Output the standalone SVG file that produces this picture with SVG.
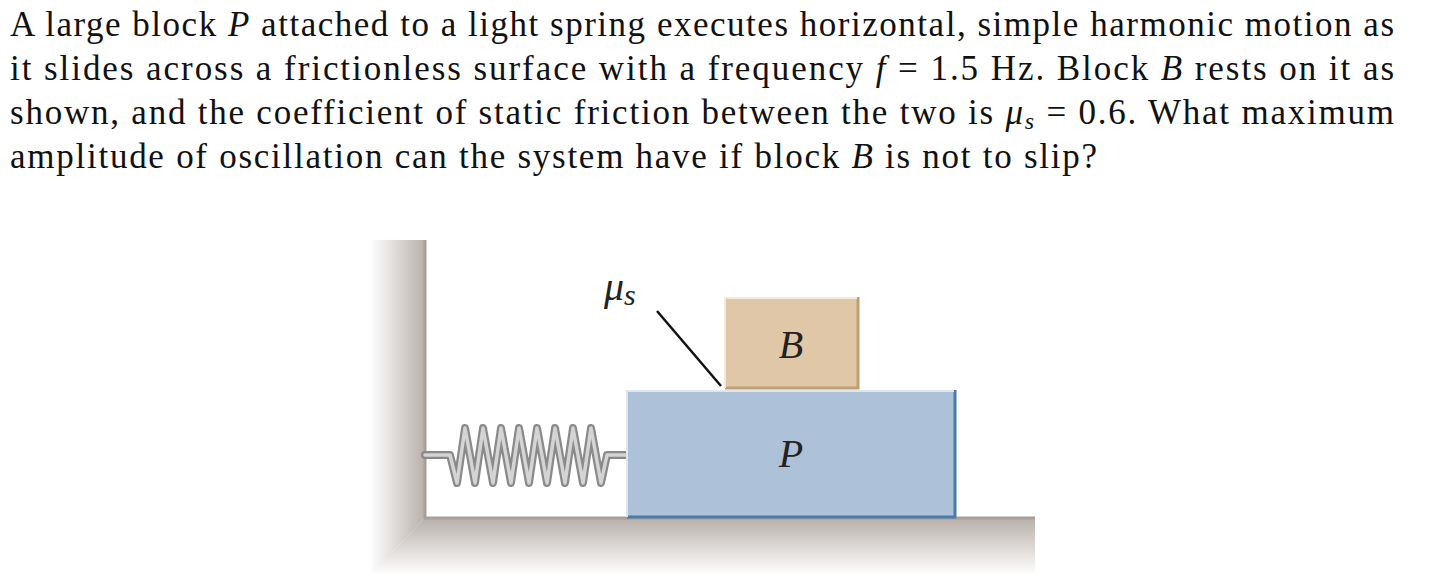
<svg xmlns="http://www.w3.org/2000/svg" width="1434" height="578" viewBox="0 0 1434 578">
<style>
.t{font-family:"Liberation Serif",serif;font-size:35px;fill:#111}
.it{font-style:italic}
.lbl{font-family:"Liberation Serif",serif;font-style:italic;font-size:40px;fill:#222}
</style>
<defs>
<linearGradient id="wallg" x1="0" y1="0" x2="1" y2="0"><stop offset="0" stop-color="#fff"/><stop offset="1" stop-color="#b8b0aa"/></linearGradient>
<linearGradient id="floorg" x1="0" y1="0" x2="0" y2="1"><stop offset="0" stop-color="#b8b0aa"/><stop offset="1" stop-color="#fff"/></linearGradient>
</defs>
<rect width="1434" height="578" fill="#fff"/>
<text class="t" x="10" y="36" textLength="1384" lengthAdjust="spacing">A large block <tspan class="it">P</tspan> attached to a light spring executes horizontal, simple harmonic motion as</text>
<text class="t" x="10" y="80" textLength="1384" lengthAdjust="spacing">it slides across a frictionless surface with a frequency <tspan class="it">f</tspan> = 1.5 Hz. Block <tspan class="it">B</tspan> rests on it as</text>
<text class="t" x="10" y="124" textLength="1384" lengthAdjust="spacing">shown, and the coefficient of static friction between the two is <tspan class="it">μ<tspan font-size="24" dy="5">s</tspan></tspan><tspan dy="-5"> = 0.6. What maximum</tspan></text>
<text class="t" x="10" y="168" textLength="1087" lengthAdjust="spacing">amplitude of oscillation can the system have if block <tspan class="it">B</tspan> is not to slip?</text>
<g id="wall">
<polygon points="370,240 425,240 425,518 370,575" fill="url(#wallg)"/>
<polygon points="425,518 1035,518 1035,575 370,575" fill="url(#floorg)"/>
<path d="M425,240 V518 H1035" fill="none" stroke="#a89f98" stroke-width="3"/>
</g>
<g id="spring" fill="none" stroke-linecap="round" stroke-linejoin="round">
<path d="M425,455 H450 L457,483 L465,428 L475,483 L483,428 L493,483 L501,428 L511,483 L519,428 L529,483 L537,428 L547,483 L555,428 L565,483 L573,428 L583,483 L591,428 L601,483 L607,455 H627" stroke="#8a8a8a" stroke-width="8"/>
<path d="M425,455 H450 L457,483 L465,428 L475,483 L483,428 L493,483 L501,428 L511,483 L519,428 L529,483 L537,428 L547,483 L555,428 L565,483 L573,428 L583,483 L591,428 L601,483 L607,455 H627" stroke="#d4d4d4" stroke-width="3.5"/>
</g>
<g id="P">
<rect x="627" y="390" width="328" height="128" fill="#adc2d9"/>
<path d="M627,517 H955 V390" fill="none" stroke="#4a7aa8" stroke-width="3"/>
<path d="M627,517 V391 H954" fill="none" stroke="#dde6ef" stroke-width="2"/>
<text class="lbl" x="791" y="467" text-anchor="middle">P</text>
</g>
<g id="B">
<rect x="725" y="297" width="133" height="92" fill="#dfc7a8"/>
<path d="M725,388 H858 V297" fill="none" stroke="#c19d72" stroke-width="3"/>
<path d="M725,388 V298 H857" fill="none" stroke="#f3e9dc" stroke-width="2"/>
<text class="lbl" x="791" y="358" text-anchor="middle">B</text>
</g>
<g id="connectors">
<line x1="657" y1="311" x2="721" y2="386" stroke="#111" stroke-width="2.5"/>
</g>
<g id="mu">
<text class="lbl" x="604" y="300" font-size="40">μ<tspan font-size="30" dy="5">s</tspan></text>
</g>
</svg>
